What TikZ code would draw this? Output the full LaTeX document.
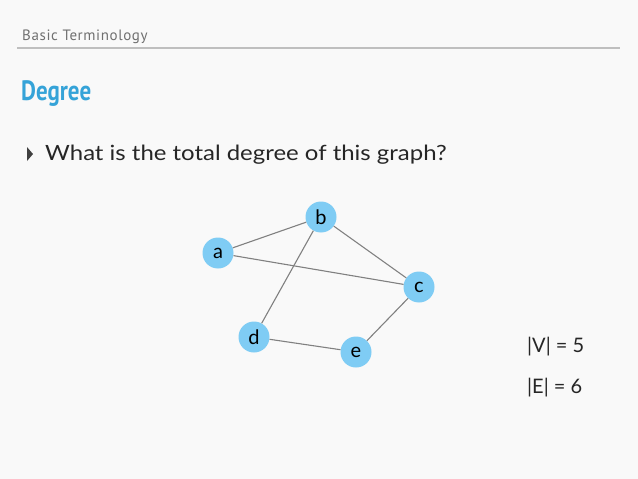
\documentclass[tikz,border=0pt]{standalone}
\usepackage{fontspec}
\setmainfont{Lato}
\newfontfamily\headfont{PT Sans}
\definecolor{bg}{HTML}{F9F9F9}
\definecolor{nodeblue}{HTML}{7FCCF4}
\definecolor{edgegray}{HTML}{808080}
\definecolor{titleblue}{HTML}{35A3D8}
\definecolor{headgray}{HTML}{707070}
\begin{document}
\begin{tikzpicture}[x=1pt,y=-1pt,
  vtx/.style={circle,fill=nodeblue,minimum size=31pt,inner sep=0pt,font=\fontsize{20}{20}\selectfont},
  edge/.style={draw=edgegray,line width=1.1pt}]
\fill[bg] (0,0) rectangle (638,479);
\useasboundingbox (0,0) rectangle (638,479);
\node[anchor=base west,text=headgray,font=\headfont\fontsize{15}{15}\selectfont,inner sep=0pt] (hdr) at (22,40) {\addfontfeatures{LetterSpace=4}Basic Terminology};
\coordinate (l1) at (17,48);
\coordinate (l2) at (620,48);
\draw[line width=1.6pt,draw=black!25] (l1) -- (l2);
\node[anchor=base west,text=titleblue,font=\headfont\bfseries\fontsize{28}{28}\selectfont,inner sep=0pt] (title) at (21,100) {\scalebox{0.82}[1]{Degree}};
\coordinate (t1) at (27,147);
\coordinate (t2) at (27,161);
\coordinate (t3) at (33,154);
\fill[black!75] (t1) -- (t3) -- (t2) -- cycle;
\node[anchor=base west,text=black!85,font=\fontsize{21}{21}\selectfont,inner sep=0pt] (q) at (45,160) {\scalebox{1.14}[1]{What is the total degree of this graph?}};
\node[vtx] (a) at (218,253) {a};
\node[vtx] (b) at (321,217) {b};
\node[vtx] (c) at (419,287) {c};
\node[vtx] (d) at (254,337) {d};
\node[vtx] (e) at (356,352) {e};
\draw[edge] (a) -- (b);
\draw[edge] (a) -- (c);
\draw[edge] (b) -- (c);
\draw[edge] (b) -- (d);
\draw[edge] (d) -- (e);
\draw[edge] (e) -- (c);
\node[anchor=base west,text=black!85,font=\fontsize{20}{20}\selectfont,inner sep=0pt] (v) at (527,352) {|V| = 5};
\node[anchor=base west,text=black!85,font=\fontsize{20}{20}\selectfont,inner sep=0pt] (e2) at (527,393) {|E| = 6};
\end{tikzpicture}
\end{document}
